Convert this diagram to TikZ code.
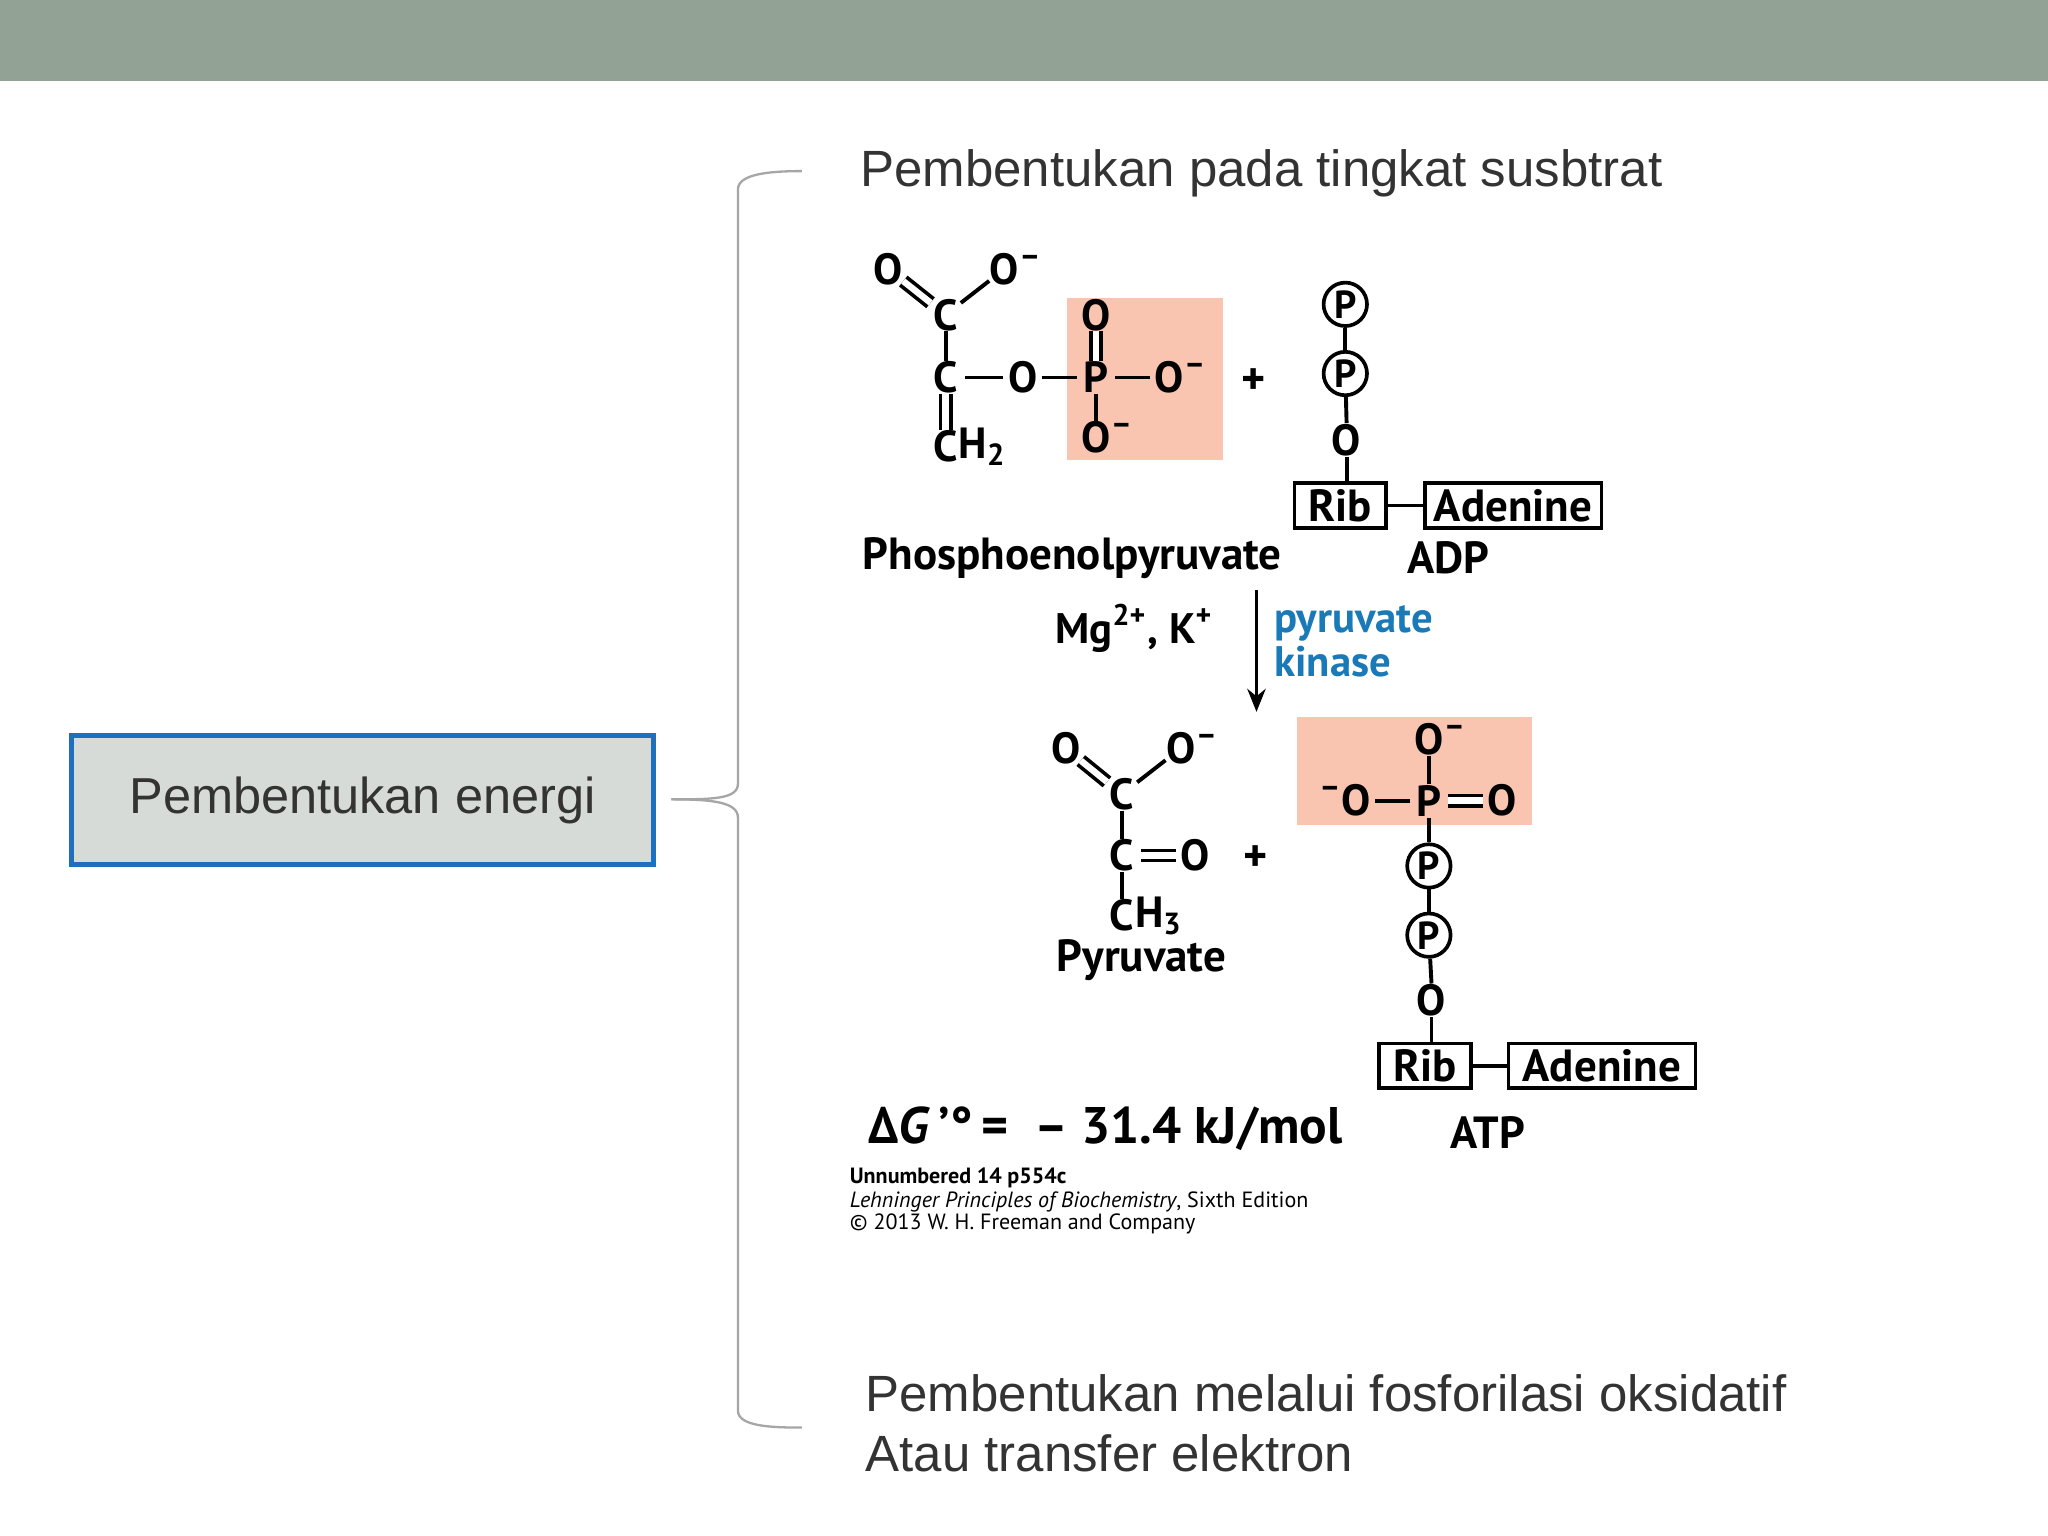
\documentclass[tikz,border=0pt]{standalone}
\usepackage{fontspec}
\setmainfont{Liberation Sans}
\newfontfamily\chem{PT Sans}
\usetikzlibrary{arrows.meta,calc}
\definecolor{barc}{HTML}{92A396}
\definecolor{boxfill}{HTML}{D6DBD7}
\definecolor{boxblue}{HTML}{1F6FBF}
\definecolor{pinkc}{HTML}{F9C4B0}
\definecolor{kin}{HTML}{1A7AB8}
\definecolor{txt}{HTML}{333333}
\newcommand{\bnd}[4][bond]{\draw[#1] ($(#2)!#3!(#4)$) -- ($(#4)!#3!(#2)$);}
\tikzset{
 atm/.style={font=\chem\bfseries\fontsize{9.5}{10}\selectfont,inner sep=0.3pt},
 sfx/.style={font=\chem\bfseries\fontsize{7}{8}\selectfont,inner sep=0pt},
 ngr/.style={label={[sfx,anchor=south west,xshift=-0.6pt,yshift=-3.5pt]north east:–}},
 ngl/.style={label={[sfx,anchor=south east,xshift=0.6pt,yshift=-3.5pt]north west:–}},
 lbl/.style={font=\chem\bfseries\fontsize{9.8}{10}\selectfont,inner sep=0pt},
 bond/.style={line width=0.85pt},
 dbond/.style={line width=0.8pt,double distance=1.4pt},
 pc/.style={circle,draw,line width=0.8pt,inner sep=0.6pt,font=\chem\bfseries\fontsize{8.5}{10}\selectfont},
 bx/.style={draw,line width=0.8pt,font=\chem\bfseries\fontsize{9.8}{10}\selectfont,minimum height=0.34cm,inner sep=1pt},
 big/.style={font=\fontsize{11.1}{13}\selectfont,text=txt,inner sep=0pt,anchor=west},
 brace/.style={draw=gray!70,line width=0.5pt}
}
\begin{document}
\begin{tikzpicture}[x=0.01cm,y=-0.01cm]
\useasboundingbox (0,0) rectangle (1568,1176);
\fill[white] (0,0) rectangle (1568,1176);
\fill[barc] (0,0) rectangle (1568,62);
% left box
\node[draw=boxblue,line width=1pt,fill=boxfill,minimum width=4.45cm,minimum height=0.99cm,font=\fontsize{11}{13}\selectfont,text=txt] (energi) at (277.5,612.5) {Pembentukan energi};
% brace
\coordinate (bm) at (514,612);
\coordinate (bt) at (614,131);
\coordinate (bb) at (614,1093);
\draw[brace] (bm) .. controls (545,612) and (565,612) .. (565,600) -- (565,145) .. controls (565,133) and (590,131) .. (bt);
\draw[brace] (bm) .. controls (545,612) and (565,614) .. (565,626) -- (565,1080) .. controls (565,1092) and (590,1093) .. (bb);
\node[big] (t1) at (658,133) {Pembentukan pada tingkat susbtrat};
\node[big] (t2) at (662,1067) {Pembentukan melalui fosforilasi oksidatif};
\node[big] (t3) at (662,1113) {Atau transfer elektron};
% PEP
\fill[pinkc] (817,228) rectangle (936,352);
\node[atm] (a1) at (680,206) {O};
\node[atm,ngr] (a2) at (769,206) {O};
\node[atm] (c1) at (724,241) {C};
\node[atm] (c2) at (724,289) {C};
\node[atm] (o3) at (783,289) {O};
\node[atm] (p1) at (839,289) {P};
\node[atm,ngr] (o4) at (895,289) {O};
\node[atm] (o5) at (839,241) {O};
\node[atm,ngr] (o6) at (839,335) {O};
\node[atm,label={[sfx,font=\chem\bfseries\fontsize{9.5}{10}\selectfont,anchor=west,xshift=-0.5pt]east:H\textsubscript{2}}] (ch2) at (724,342) {C};
\bnd[dbond]{a1}{4.2pt}{c1}
\bnd{c1}{4.2pt}{a2}
\bnd{c1}{3.6pt}{c2}
\bnd{c2}{4.2pt}{o3}
\bnd{o3}{4.2pt}{p1}
\bnd{p1}{4.2pt}{o4}
\bnd[dbond]{p1}{3.6pt}{o5}
\bnd{p1}{3.6pt}{o6}
\bnd[dbond]{c2}{3.6pt}{ch2}
\node[font=\chem\bfseries\fontsize{10}{10}\selectfont] (plus1) at (960,292) {+};
% ADP
\node[pc] (pa) at (1030,233) {P};
\node[pc] (pb) at (1030,286) {P};
\node[atm] (oa) at (1031,337) {O};
\node[bx,minimum width=0.7cm] (riba) at (1026,387) {Rib};
\node[bx,minimum width=1.35cm] (adea) at (1158.5,387) {Adenine};
\draw[bond] (pa) -- (pb);
\draw[bond] (pb) -- ($(oa)+(0,-13)$);
\draw[bond] ($(oa)+(0,13)$) -- (oa |- riba.north);
\draw[bond] (riba) -- (adea);
\node[lbl] (lpep) at (821,427) {Phosphoenolpyruvate};
\node[lbl] (ladp) at (1109,427) {ADP};
% arrow
\coordinate (ar1) at (962,452);
\coordinate (ar2) at (962,545);
\draw[line width=0.7pt,-{Stealth[length=5pt,width=4pt]}] (ar1) -- (ar2);
\node[lbl,anchor=east,font=\chem\bfseries\fontsize{9.3}{10}\selectfont] (mg) at (930,481) {Mg\textsuperscript{2+}, K\textsuperscript{+}};
\node[lbl,anchor=north west,align=left,text=kin,font=\chem\bfseries\fontsize{9.3}{8.4}\selectfont] (kin) at (975,463) {pyruvate\\kinase};
% Pyruvate
\node[atm] (b1) at (816,573) {O};
\node[atm,ngr] (b2) at (904,573) {O};
\node[atm] (d1) at (859,608) {C};
\node[atm] (d2) at (859,655) {C};
\node[atm] (b3) at (915,655) {O};
\node[atm,label={[sfx,font=\chem\bfseries\fontsize{9.5}{10}\selectfont,anchor=west,xshift=-0.5pt]east:H\textsubscript{3}}] (ch3) at (859,701) {C};
\bnd[dbond]{b1}{4.2pt}{d1}
\bnd{d1}{4.2pt}{b2}
\bnd{d1}{3.6pt}{d2}
\bnd[dbond]{d2}{4.2pt}{b3}
\bnd{d2}{3.6pt}{ch3}
\node[lbl] (lpyr) at (874,735) {Pyruvate};
\node[font=\chem\bfseries\fontsize{10}{10}\selectfont] (plus2) at (961,657) {+};
% ATP
\fill[pinkc] (993,549) rectangle (1173,632);
\node[atm,ngr] (e1) at (1094,566) {O};
\node[atm,ngl] (e2) at (1038,613) {O};
\node[atm] (p2) at (1094,613) {P};
\node[atm] (e3) at (1150,613) {O};
\node[pc] (pc1) at (1094,663) {P};
\node[pc] (pc2) at (1094,716) {P};
\node[atm] (ob) at (1096,766) {O};
\node[bx,minimum width=0.7cm] (ribb) at (1091,816) {Rib};
\node[bx,minimum width=1.43cm] (adeb) at (1226.5,816) {Adenine};
\bnd{p2}{3.6pt}{e1}
\bnd{e2}{4.2pt}{p2}
\bnd[dbond]{p2}{4.2pt}{e3}
\draw[bond] ($(p2)+(0,13)$) -- (pc1);
\draw[bond] (pc1) -- (pc2);
\draw[bond] (pc2) -- ($(ob)+(0,-13)$);
\draw[bond] ($(ob)+(0,13)$) -- (ob |- ribb.north);
\draw[bond] (ribb) -- (adeb);
\node[lbl] (latp) at (1139,867) {ATP};
\node[font=\chem\bfseries\fontsize{11.2}{14}\selectfont,anchor=west,inner sep=0pt] (dg) at (664,864) {Δ\textit{G}\,’°\,=\ \ – 31.4 kJ/mol};
% footnote
\node[font=\chem\fontsize{4.8}{6}\selectfont,anchor=west,inner sep=0pt] (f1) at (650,902) {\bfseries Unnumbered 14 p554c};
\node[font=\chem\fontsize{4.8}{6}\selectfont,anchor=west,inner sep=0pt] (f2) at (650,920) {\itshape Lehninger Principles of Biochemistry\upshape, Sixth Edition};
\node[font=\chem\fontsize{4.8}{6}\selectfont,anchor=west,inner sep=0pt] (f3) at (650,937) {© 2013 W. H. Freeman and Company};
\end{tikzpicture}
\end{document}
